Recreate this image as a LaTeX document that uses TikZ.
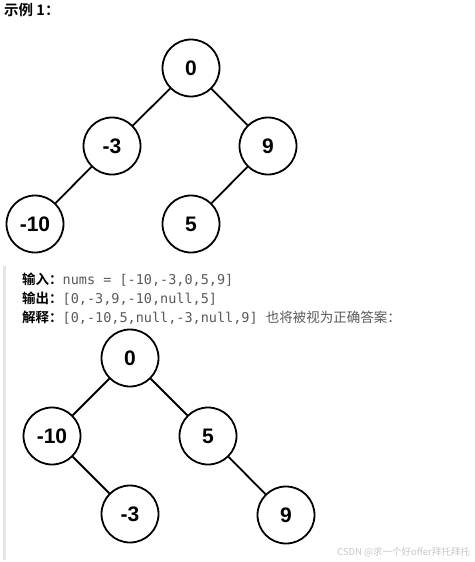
\documentclass[tikz,border=0pt]{standalone}
\usepackage{fontspec}
\setmainfont{Liberation Sans}
\newfontfamily\cjk{Noto Sans CJK SC}
\newfontfamily\cjkb{Noto Sans CJK SC Bold}
\newfontfamily\codefont{DejaVu Sans Mono}
\definecolor{codegray}{HTML}{5A5A5A}
\definecolor{bargray}{HTML}{E6E6E6}
\definecolor{wmgray}{HTML}{C8C8C8}
\begin{document}
\begin{tikzpicture}[x=1pt,y=-1pt,
  tnode/.style={circle,draw=black,line width=1.8pt,minimum size=57pt,inner sep=0pt,
    font=\fontsize{21}{21}\selectfont\bfseries},
  tedge/.style={draw=black,line width=1.8pt},
  lbl/.style={anchor=base west,inner sep=0pt,font=\fontsize{13.5}{14}\selectfont}]
\useasboundingbox[fill=white] (0,0) rectangle (474,562);
% quote bar
\fill[bargray] (3,266) rectangle (6,560);
% heading
\node[anchor=base west,inner sep=0pt,font=\cjkb\fontsize{14.5}{15}\selectfont] (title) at (4,16) {示例 1：};
% top tree
\node[tnode] (a0) at (191,68) {0};
\node[tnode] (am3) at (112,146) {-3};
\node[tnode] (a9) at (268,146) {9};
\node[tnode] (am10) at (35,224) {-10};
\node[tnode] (a5) at (191,224) {5};
\draw[tedge] (a0) -- (am3);
\draw[tedge] (a0) -- (a9);
\draw[tedge] (am3) -- (am10);
\draw[tedge] (a9) -- (a5);
% text lines
\node[lbl] (l1) at (22,284) {{\cjkb 输入：}\textcolor{codegray}{\codefont nums = [-10,-3,0,5,9]}};
\node[lbl] (l2) at (22,303) {{\cjkb 输出：}\textcolor{codegray}{\codefont [0,-3,9,-10,null,5]}};
\node[lbl] (l3) at (22,322) {{\cjkb 解释：}\textcolor{codegray}{\codefont [0,-10,5,null,-3,null,9] {\cjk 也将被视为正确答案：}}};
% bottom tree
\node[tnode] (b0) at (130,358) {0};
\node[tnode] (bm10) at (52,436) {-10};
\node[tnode] (b5) at (208,436) {5};
\node[tnode] (bm3) at (130,514) {-3};
\node[tnode] (b9) at (286,515) {9};
\draw[tedge] (b0) -- (bm10);
\draw[tedge] (b0) -- (b5);
\draw[tedge] (bm10) -- (bm3);
\draw[tedge] (b5) -- (b9);
% watermark
\node[anchor=base east,inner sep=0pt,text=wmgray,font=\cjk\fontsize{9.5}{10}\selectfont] (wm) at (470,555) {CSDN @求一个好offer拜托拜托};
\end{tikzpicture}
\end{document}
